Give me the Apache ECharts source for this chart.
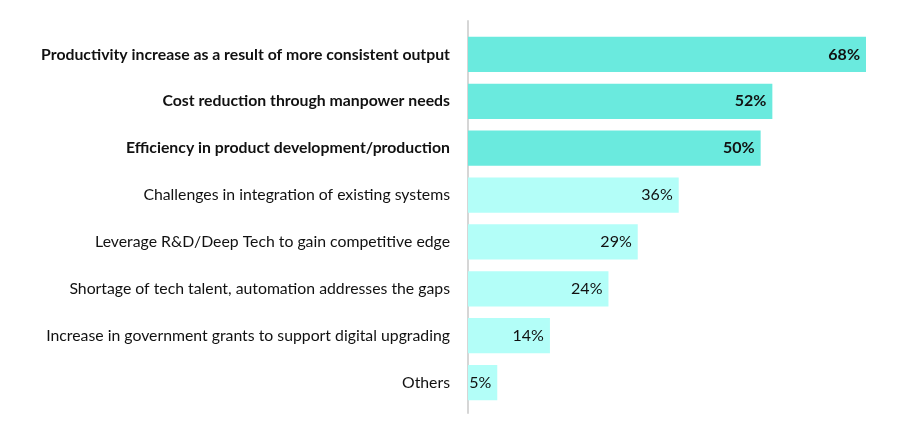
<!DOCTYPE html>
<html>
<head>
<meta charset="utf-8">
<script src="https://cdn.jsdelivr.net/npm/echarts@6/dist/echarts.min.js"></script>
<style>
  html, body { margin: 0; padding: 0; background: #fff; }
  #chart { width: 900px; height: 435px; }
</style>
</head>
<body>
<div id="chart"></div>
<script>
// data, top to bottom as shown
var categories = [
  "Productivity increase as a result of more consistent output",
  "Cost reduction through manpower needs",
  "Efficiency in product development/production",
  "Challenges in integration of existing systems",
  "Leverage R&D/Deep Tech to gain competitive edge",
  "Shortage of tech talent, automation addresses the gaps",
  "Increase in government grants to support digital upgrading",
  "Others"
];
var values = [68, 52, 50, 36, 29, 24, 14, 5];
var highlighted = [true, true, true, false, false, false, false, false];

var darkColor = "#6aeade";
var lightColor = "#b3fef8";
var fontName = "Lato, 'Open Sans', sans-serif";

var chart = echarts.init(document.getElementById("chart"));

var barData = values.map(function (v, i) {
  return {
    value: v,
    itemStyle: { color: highlighted[i] ? darkColor : lightColor },
    label: { fontWeight: highlighted[i] ? "bold" : "normal" }
  };
});

var option = {
  animation: false,
  grid: [
    { left: 468, right: 34, top: 31, bottom: 29 },
    // only for the taller vertical axis line
    { left: 468, right: 34, top: 21, bottom: 22 }
  ],
  xAxis: [
    { type: "value", gridIndex: 0, min: 0, max: 68, show: false },
    { type: "value", gridIndex: 1, min: 0, max: 68, show: false }
  ],
  yAxis: [
    {
      type: "category",
      gridIndex: 0,
      inverse: true,
      data: categories,
      axisLine: { show: false },
      axisTick: { show: false },
      axisLabel: {
        margin: 18,
        fontSize: 15.8,
        color: "#111",
        fontFamily: fontName,
        formatter: function (val, idx) {
          return highlighted[idx] ? "{b|" + val + "}" : val;
        },
        rich: {
          b: { fontWeight: "bold", fontSize: 15.8, color: "#111", fontFamily: fontName }
        }
      }
    },
    {
      type: "category",
      gridIndex: 1,
      data: [""],
      axisLine: { show: true, lineStyle: { color: "#d6d6d6", width: 2 } },
      axisTick: { show: false },
      axisLabel: { show: false }
    }
  ],
  series: [
    {
      type: "bar",
      xAxisIndex: 0,
      yAxisIndex: 0,
      data: barData,
      barCategoryGap: "25%",
      label: {
        show: true,
        position: "insideRight",
        distance: 6,
        fontSize: 16,
        color: "#111",
        fontFamily: fontName,
        formatter: "{c}%"
      }
    }
  ]
};

chart.setOption(option);
</script>
</body>
</html>
